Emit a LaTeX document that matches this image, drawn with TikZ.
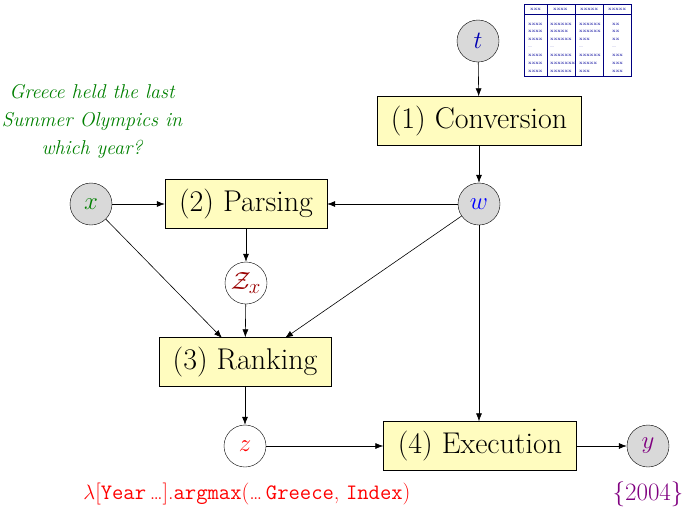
\documentclass[tikz,border=0pt]{standalone}
\usetikzlibrary{arrows.meta}
\begin{document}
\begin{tikzpicture}[x=1pt,y=-1pt,
 box/.style={draw,fill=yellow!25,minimum width=#1,minimum height=49pt,inner sep=0pt,font=\fontsize{30}{34}\selectfont},
 var/.style={draw,circle,fill=gray!30,minimum size=42pt,inner sep=0pt,font=\fontsize{30}{34}\selectfont},
 lat/.style={draw,circle,fill=white,minimum size=42pt,inner sep=0pt,font=\fontsize{30}{34}\selectfont},
 arr/.style={-{Latex[length=8pt,width=6pt]},line width=0.6pt},
 tc/.style={font=\fontsize{5}{6}\selectfont,text=blue!60!black,inner sep=0pt,anchor=west}]
\useasboundingbox (0,0) rectangle (688,512);
\node[var] (t) at (478,41) {$\color{blue!70!black}t$};
\node[box=204pt] (conv) at (479,121) {(1) Conversion};
\node[var] (w) at (479,204) {$\color{blue}w$};
\node[var] (x) at (91,204) {$\color{green!50!black}x$};
\node[box=162pt] (pars) at (246,204) {(2) Parsing};
\node[lat] (zx) at (246,283) {$\color{red!60!black}\mathcal{Z}_x$};
\node[box=172pt] (rank) at (245,362) {(3) Ranking};
\node[lat] (z) at (245,446) {$\color{red}z$};
\node[box=193pt] (exe) at (480,446) {(4) Execution};
\node[var] (y) at (648,446) {$\color{violet}y$};
\node[align=center,text=green!50!black,font=\fontsize{20}{28}\selectfont\itshape] (q) at (92,121) {Greece held the last\\Summer Olympics in\\which year?};
\node[text=red,font=\fontsize{22}{26}\selectfont] (lf) at (247,494) {$\lambda$[\texttt{Year}\,\dots].\texttt{argmax}(\dots\,\texttt{Greece}, \texttt{Index})};
\node[text=violet,font=\fontsize{25}{28}\selectfont] (res) at (648,494) {\{2004\}};
\coordinate (rx) at (222,338);
\coordinate (rw) at (285,338);
\draw[arr] (t) -- (conv);
\draw[arr] (conv) -- (w);
\draw[arr] (w) -- (pars);
\draw[arr] (x) -- (pars);
\draw[arr] (pars) -- (zx);
\draw[arr] (zx) -- (rank);
\draw[arr] (x) -- (rx);
\draw[arr] (w) -- (rw);
\draw[arr] (w) -- (w|-exe.north);
\draw[arr] (rank) -- (z);
\draw[arr] (z) -- (exe);
\draw[arr] (exe) -- (y);
% table
\draw[blue!50!black,line width=0.8pt] (524,4) rectangle (631,76);
\draw[blue!50!black,line width=0.8pt] (524,14) -- (631,14);
\foreach \c in {547,575,603} \draw[blue!50!black,line width=0.8pt] (\c,4) -- (\c,76);
\foreach \s/\c in {xxx/530,xxxx/553,xxxxx/580,xxxxx/608} \node[tc] at (\c,9) {\s};
\foreach \r/\a/\b/\cc/\d in {24/xxxx/xxxxxx/xxxxxx/xx,31/xxxx/xxxxx/xxxxxx/xx,39/xxxx/xxxxxx/xxx/xx,47/../../../..,55/xxxx/xxxxxx/xxxxxx/xxx,63/xxxx/xxxxxxx/xxxxx/xxx,71/xxxx/xxxxxx/xxx/xxx}
 {\node[tc] at (528,\r) {\a};\node[tc] at (550,\r) {\b};\node[tc] at (579,\r) {\cc};\node[tc] at (612,\r) {\d};}
\end{tikzpicture}
\end{document}
